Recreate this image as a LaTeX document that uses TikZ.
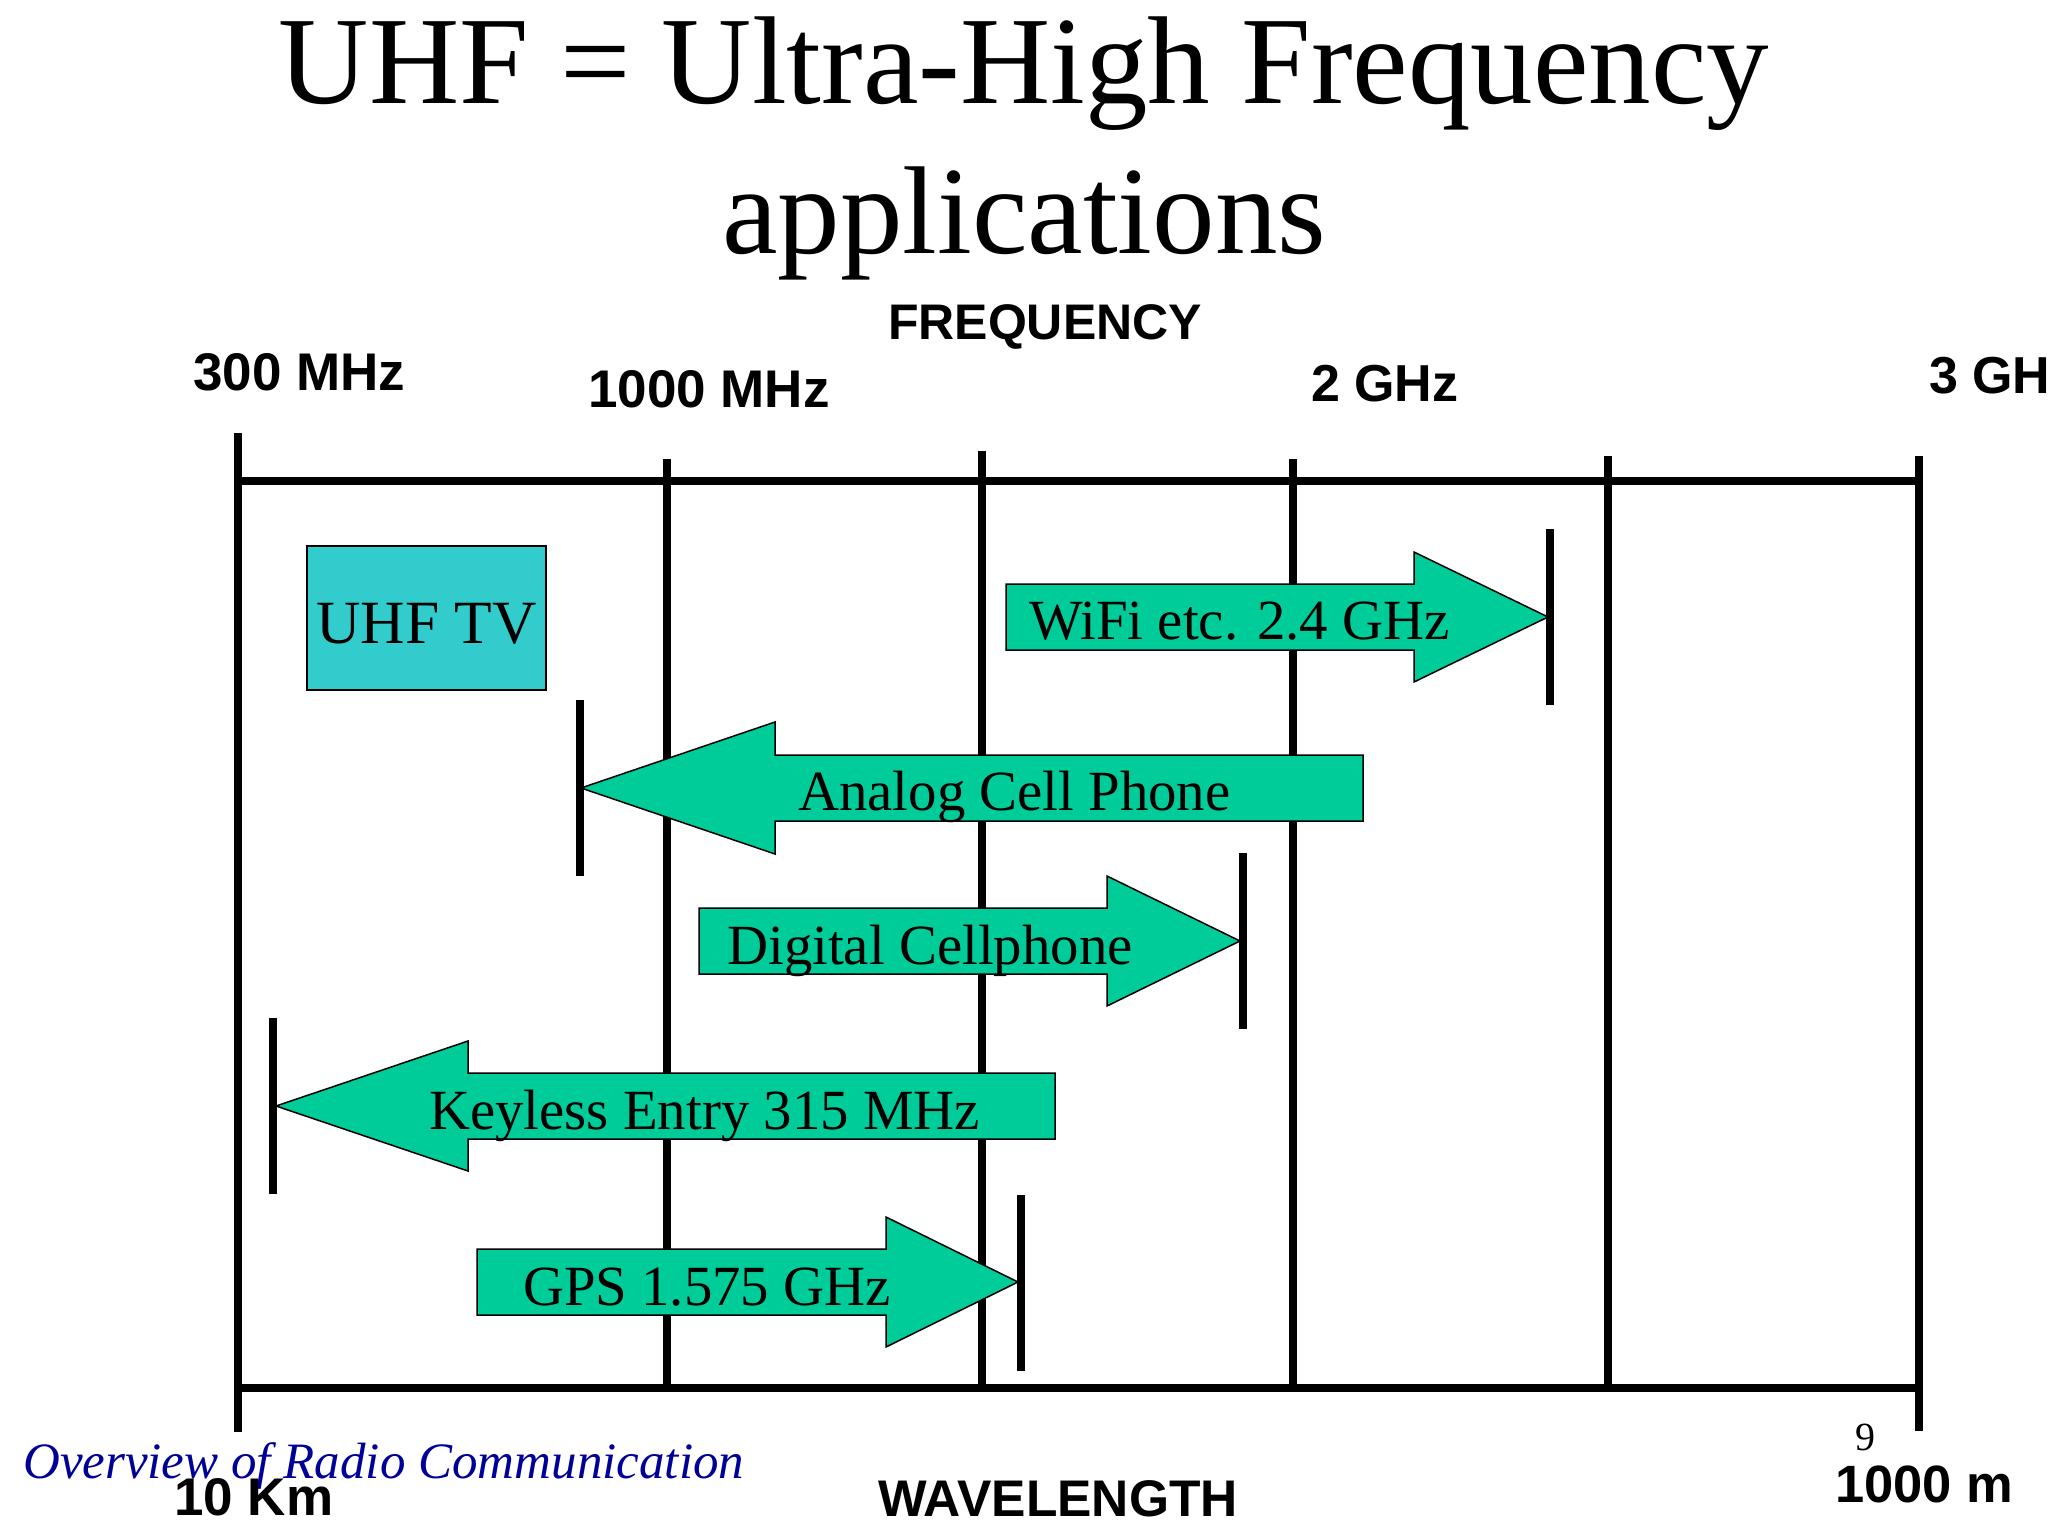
\documentclass[tikz,border=0pt]{standalone}
\usepackage{fontspec}
\setmainfont{Liberation Serif}
\setsansfont{Liberation Sans}
\definecolor{tvcyan}{RGB}{51,204,204}
\definecolor{bandgreen}{RGB}{0,204,153}
\definecolor{footblue}{RGB}{0,0,150}
\begin{document}
\begin{tikzpicture}[x=1pt,y=-1pt,
    every node/.style={inner sep=0pt,anchor=base west},
    title/.style={anchor=base,font=\fontsize{125}{150}\selectfont},
    scalelabel/.style={font=\sffamily\bfseries\fontsize{53}{62}\selectfont},
    bandtext/.style={font=\fontsize{56.8}{66}\selectfont},
    gridline/.style={line width=8.5pt},
    limit/.style={line width=8pt},
    band/.style={fill=bandgreen,draw=black,line width=1.5pt,line join=miter}]
  \useasboundingbox (0,0) rectangle (2048,1536);
  \node[title] (t1) at (1024,104) {UHF = Ultra-High Frequency};
  \node[title] (t2) at (1024,253) {applications};
  % frequency scale
  \node[scalelabel,anchor=base,font=\sffamily\bfseries\fontsize{50}{58}\selectfont] (freq) at (1045,339) {FREQUENCY};
  \node[scalelabel] (f300) at (193,390) {300 MHz};
  \node[scalelabel] (f1000) at (588,407) {1000 MHz};
  \node[scalelabel,font=\sffamily\bfseries\fontsize{52}{60}\selectfont] (f2) at (1311,401) {2 GHz};
  \node[scalelabel,font=\sffamily\bfseries\fontsize{52}{60}\selectfont] (f3) at (1929,393) {3 GHz};
  % grid
  \draw[gridline] (238,481) -- (1919,481);
  \draw[gridline] (238,1388) -- (1919,1388);
  \draw[gridline] (238,433) -- (238,1432);
  \draw[gridline] (667,459) -- (667,1388);
  \draw[gridline] (982,451) -- (982,1388);
  \draw[gridline] (1293,459) -- (1293,1388);
  \draw[gridline] (1608,456) -- (1608,1388);
  \draw[gridline] (1919,456) -- (1919,1431);
  % UHF TV
  \draw[fill=tvcyan,line width=1.5pt] (307,546) rectangle (546,690);
  \node[font=\fontsize{61.5}{72}\selectfont] (tv) at (316,643) {UHF TV};
  % bands
  \filldraw[band] (1006,584) -- (1414,584) -- (1414,552) -- (1548,617) -- (1414,682) -- (1414,650) -- (1006,650) -- cycle;
  \draw[limit] (1550,529) -- (1550,705);
  \node[bandtext] (wifi) at (1029,639) {WiFi etc. 2.4 GHz};
  \filldraw[band] (1363,755) -- (775,755) -- (775,722) -- (581,788) -- (775,854) -- (775,821) -- (1363,821) -- cycle;
  \draw[limit] (580,700) -- (580,876);
  \node[bandtext] (analog) at (798,810) {Analog Cell Phone};
  \filldraw[band] (699,908) -- (1107,908) -- (1107,876) -- (1240,941) -- (1107,1006) -- (1107,974) -- (699,974) -- cycle;
  \draw[limit] (1243,853) -- (1243,1029);
  \node[bandtext] (digital) at (727,964) {Digital Cellphone};
  \filldraw[band] (1055,1073) -- (468,1073) -- (468,1041) -- (276,1106) -- (468,1171) -- (468,1139) -- (1055,1139) -- cycle;
  \draw[limit] (273,1018) -- (273,1194);
  \node[bandtext] (keyless) at (429,1129) {Keyless Entry 315 MHz};
  \filldraw[band] (477,1249) -- (886,1249) -- (886,1217) -- (1018,1282) -- (886,1347) -- (886,1315) -- (477,1315) -- cycle;
  \draw[limit] (1021,1195) -- (1021,1371);
  \node[bandtext] (gps) at (523,1305) {GPS 1.575 GHz};
  % wavelength scale
  \node[font=\itshape\fontsize{51}{60}\selectfont,text=footblue] (foot) at (23,1478) {Overview of Radio Communication};
  \node[font=\fontsize{40}{48}\selectfont] (page) at (1855,1450) {9};
  \node[scalelabel] (w10) at (174,1515) {10 Km};
  \node[scalelabel,font=\sffamily\bfseries\fontsize{51.5}{60}\selectfont] (wave) at (878,1516) {WAVELENGTH};
  \node[scalelabel,font=\sffamily\bfseries\fontsize{52.5}{60}\selectfont] (w1000) at (1835,1502) {1000 m};
\end{tikzpicture}
\end{document}
